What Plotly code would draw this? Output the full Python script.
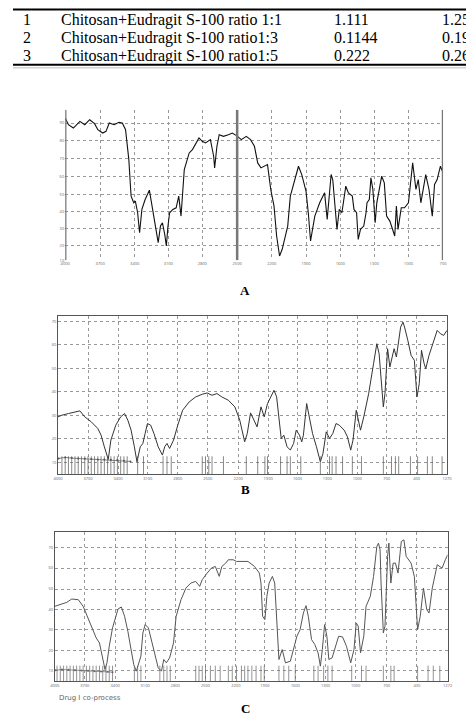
import plotly.graph_objs as go

# table rows at top of page
row_no = ["1", "2", "3"]
row_name = ["Chitosan+Eudragit S-100 ratio 1:1", "Chitosan+Eudragit S-100 ratio1:3", "Chitosan+Eudragit S-100 ratio1:5"]
row_v1 = ["1.111", "0.1144", "0.222"]
row_v2 = ["1.25", "0.196", "0.266"]

# spectrum A (chart units: x position along scan, y depth)
a_x = [100,110,125,145,160,175,190,200,215,225,235,250,265,275,285,295,300,302,310,315,322,328,335,345,358,368,380,385,392,398,405,410,415,420,430,440,448,455,465,480,490,500,510,520,530,545,555,558,565,572,585,600,612,625,640,655,668,680,690,700,712,720,730,740,748,752,757,765,782,790,805,815,825,835,838,845,852,858,865,880,890,895,903,908,915,920,928,933,940,948,960,968,980,985,993,998,1005,1015,1022,1025,1032,1037,1043,1050,1055,1070,1078,1085,1095,1105,1110,1115,1120,1130,1140,1152,1158,1165,1175,1182,1190,1205,1215,1225,1232,1240,1250,1258]
a_y = [45,65,75,55,65,50,62,80,90,85,60,65,58,60,80,170,250,280,300,295,330,390,320,290,262,320,385,420,370,360,395,430,370,330,320,315,280,340,200,150,140,120,105,115,120,110,160,195,130,95,100,95,90,98,110,100,110,130,180,195,190,185,260,310,400,430,460,440,370,280,230,190,215,260,265,330,415,380,340,300,280,270,350,300,215,230,320,380,320,330,250,270,280,320,330,410,380,370,330,300,290,225,260,360,300,220,240,340,355,390,400,310,380,315,315,300,240,180,260,230,300,215,260,340,245,230,190,210]

# spectrum B
b_x = [78,90,110,130,145,160,180,200,210,220,232,240,255,270,282,292,302,312,320,330,338,345,352,362,372,385,398,405,412,420,432,445,460,480,500,520,535,550,565,580,600,620,635,650,658,668,678,688,700,710,720,730,740,748,755,762,770,780,790,800,808,818,825,830,840,848,858,870,882,890,900,910,920,930,940,955,965,975,982,992,1005,1015,1030,1045,1055,1062,1070,1075,1080,1088,1095,1100,1108,1115,1120,1128,1135,1140,1150,1160,1170,1178,1185,1192,1200,1205,1215,1225,1240,1250,1260,1270]
b_y = [330,325,320,315,312,330,345,365,385,420,458,400,355,330,320,340,370,420,465,420,410,380,350,355,380,420,445,420,410,425,400,355,310,285,270,262,258,265,260,270,280,300,340,405,380,318,340,360,300,330,290,272,250,270,330,395,385,420,430,410,370,385,405,385,290,330,380,420,465,440,375,395,380,350,355,370,390,430,400,310,370,330,260,170,110,140,230,300,260,125,180,160,125,150,110,60,45,60,100,145,160,270,230,130,170,185,145,115,70,80,85,70]
b_base_x = [80,100,120,140,160,180,200,220,240,260,280,300]
b_base_y = [455,452,454,455,456,457,458,458,459,460,462,464]
b_peaks = [90,100,110,120,130,140,150,160,170,180,190,200,210,220,230,240,250,260,270,280,290,322,340,400,412,425,520,530,540,550,585,655,690,712,720,760,780,790,822,882,910,918,930,950,980,1008,1075,1100,1112,1122,1158,1180,1210,1225,1255]

# spectrum C
c_x = [68,85,105,120,140,155,165,180,195,205,215,222,228,235,245,255,262,272,282,292,302,310,318,325,332,338,345,355,365,375,385,395,402,410,420,432,440,455,470,485,500,512,520,535,548,560,572,580,592,600,615,625,640,660,680,695,700,705,712,718,725,735,742,750,755,765,775,790,800,810,820,830,838,845,855,865,875,882,888,895,902,908,918,928,938,950,962,975,985,992,998,1005,1015,1022,1035,1045,1055,1060,1065,1068,1075,1080,1088,1092,1098,1105,1112,1120,1130,1138,1145,1160,1170,1180,1188,1198,1208,1215,1225,1240,1255,1265,1272]
c_y = [270,265,258,248,250,270,295,330,365,380,430,460,440,390,335,300,278,272,300,345,400,445,465,440,420,350,325,335,375,420,455,465,430,440,425,380,300,250,215,200,195,210,190,170,155,150,180,150,140,130,130,135,135,135,150,170,200,300,310,240,200,180,200,350,430,400,440,435,400,360,340,290,268,300,370,385,410,450,400,325,360,430,425,390,360,362,390,440,400,320,330,410,360,270,240,180,90,80,100,200,350,330,120,80,200,140,140,170,75,70,120,140,180,340,300,215,280,290,215,145,155,130,115]
c_base_x = [70,90,110,130,150,170,190,210,230,245]
c_base_y = [462,460,461,462,463,464,465,466,467,468]
c_peaks = [75,85,95,105,115,125,135,145,155,165,175,185,195,205,215,225,235,245,312,322,332,390,402,412,422,500,510,520,530,545,560,575,600,612,625,640,650,660,672,685,700,710,755,770,785,805,862,875,892,905,918,978,1008,1022,1075,1098,1108,1180,1212,1228,1248]

grid_lab = ["4000", "3700", "3400", "3100", "2800", "2500", "2200", "1900", "1600", "1300", "1000", "700", "400"]

a_vgrid = [100,207,313,416,520,627,733,838,943,1047,1152,1258]
a_hgrid = [60,113,167,220,275,325,378,430,473]
b_vgrid = [78,170,262,353,445,537,630,722,812,903,995,1085,1177,1270]
b_hgrid = [43,112,184,255,325,396,467]
c_vgrid = [68,160,253,345,437,530,623,712,805,898,990,1085,1178,1272]
c_hgrid = [93,155,218,280,340,403,463]

fig = go.Figure()
fig.add_trace(go.Scatter(x=a_x, y=a_y, mode="lines", line=dict(color="#111", width=1.1), xaxis="x", yaxis="y"))
fig.add_trace(go.Scatter(x=b_x, y=b_y, mode="lines", line=dict(color="#333", width=1), xaxis="x2", yaxis="y2"))
fig.add_trace(go.Scatter(x=b_base_x, y=b_base_y, mode="lines+markers", marker=dict(size=2, color="#555"), line=dict(color="#666", width=0.8), xaxis="x2", yaxis="y2"))
fig.add_trace(go.Scatter(x=b_peaks, y=[478] * len(b_peaks), mode="markers", marker=dict(symbol="line-ns", size=14, line=dict(width=0.7, color="#555")), xaxis="x2", yaxis="y2"))
fig.add_trace(go.Scatter(x=c_x, y=c_y, mode="lines", line=dict(color="#555", width=1), xaxis="x3", yaxis="y3"))
fig.add_trace(go.Scatter(x=c_base_x, y=c_base_y, mode="lines+markers", marker=dict(size=2, color="#666"), line=dict(color="#777", width=0.8), xaxis="x3", yaxis="y3"))
fig.add_trace(go.Scatter(x=c_peaks, y=[478] * len(c_peaks), mode="markers", marker=dict(symbol="line-ns", size=14, line=dict(width=0.7, color="#666")), xaxis="x3", yaxis="y3"))


def xax(rng, dom, vals, mirror):
    return dict(range=rng, domain=dom, tickvals=vals, ticktext=grid_lab[:len(vals)], showgrid=True,
                gridcolor="#999", griddash="dot", gridwidth=0.8, zeroline=False,
                showline=mirror, linecolor="#555", mirror=mirror, ticks="", tickfont=dict(size=4, color="#666"))


def yax(rng, dom, vals, mirror):
    return dict(range=rng, domain=dom, tickvals=vals, ticktext=[str(10 * (len(vals) - i)) for i in range(len(vals))],
                showgrid=True, gridcolor="#999", griddash="dot", gridwidth=0.8, zeroline=False,
                showline=mirror, linecolor="#555", mirror=mirror, ticks="", tickfont=dict(size=4, color="#666"))


xa = xax([100, 1258], [0.1125, 0.9268], a_vgrid, False); xa["anchor"] = "y"
xb = xax([78, 1270], [0.0970, 0.9353], b_vgrid, True); xb["anchor"] = "y2"
xc = xax([68, 1272], [0.0900, 0.9367], c_vgrid, True); xc["anchor"] = "y3"
ya = yax([473, 20], [0.6496, 0.8587], a_hgrid, False); ya["anchor"] = "x"
yb = yax([502, 28], [0.3527, 0.5716], b_hgrid, True); yb["anchor"] = "x2"
yc = yax([495, 45], [0.0651, 0.2729], c_hgrid, True); yc["anchor"] = "x3"

shapes = []
# heavy bars on panel A
for xv in [100, 627, 1258]:
    shapes.append(dict(type="line", xref="x", yref="y", x0=xv, x1=xv, y0=473, y1=20, line=dict(color="#777", width=2.5)))
# table rules
shapes.append(dict(type="line", xref="paper", yref="paper", x0=0, x1=1, y0=0.998, y1=0.998, line=dict(color="black", width=2)))
shapes.append(dict(type="line", xref="paper", yref="paper", x0=0, x1=1, y0=1 - 57 / 722, y1=1 - 57 / 722, line=dict(color="black", width=2)))
shapes.append(dict(type="line", xref="paper", yref="paper", x0=0, x1=1, y0=1 - 60 / 722, y1=1 - 60 / 722, line=dict(color="#bbb", width=1)))

ann = []
serif = "Liberation Serif"
for i in range(3):
    yy = 1 - (12 + 18 * i) / 722
    ann.append(dict(text=row_no[i], x=8 / 474, y=yy, xanchor="left"))
    ann.append(dict(text=row_name[i], x=47 / 474, y=yy, xanchor="left"))
    ann.append(dict(text=row_v1[i], x=326 / 474, y=yy, xanchor="left"))
    ann.append(dict(text=row_v2[i], x=436 / 474, y=yy, xanchor="left"))
for a in ann:
    a.update(xref="paper", yref="paper", yanchor="middle", showarrow=False, font=dict(family=serif, size=16, color="black"))
for lab, yp in [("A", 283), ("B", 492), ("C", 712)]:
    ann.append(dict(text="<b>" + lab + "</b>", x=237 / 474, y=1 - yp / 722, xref="paper", yref="paper", showarrow=False,
                    font=dict(family=serif, size=13, color="black")))
ann.append(dict(text="Drug I co-process", x=45 / 474, y=1 - 692 / 722, xref="paper", yref="paper", xanchor="left",
                yanchor="middle", showarrow=False, font=dict(family="DejaVu Sans", size=7, color="#666")))

fig.update_layout(width=474, height=722, margin=dict(l=0, r=0, t=0, b=0), showlegend=False,
                  plot_bgcolor="white", paper_bgcolor="white",
                  xaxis=xa, xaxis2=xb, xaxis3=xc, yaxis=ya, yaxis2=yb, yaxis3=yc,
                  shapes=shapes, annotations=ann)
fig.write_html("out.html")
